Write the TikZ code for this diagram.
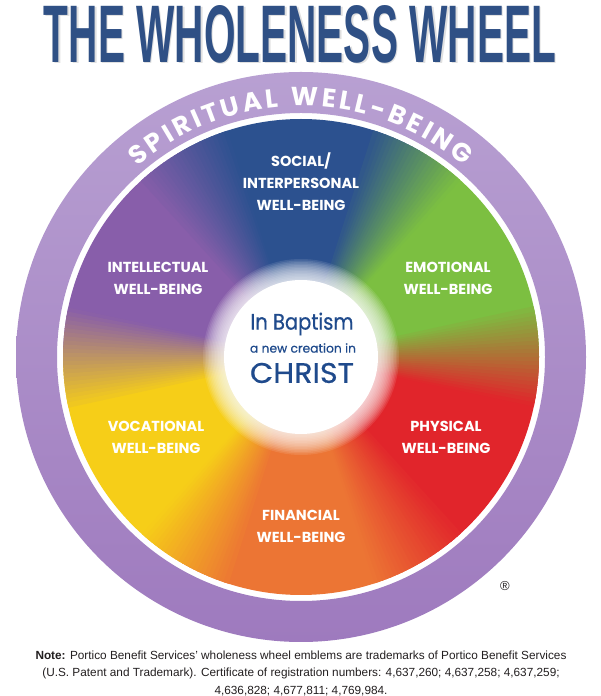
\documentclass[tikz,border=0pt]{standalone}
\usepackage{fontspec}
\setmainfont{Liberation Sans}
\newfontfamily\pop{Poppins}
\newfontfamily\popm[FakeBold=0.6]{Poppins}
\usetikzlibrary{decorations.text}
\definecolor{ringTop}{RGB}{184,160,210}
\definecolor{ringBot}{RGB}{158,122,190}
\definecolor{cBlue}{RGB}{44,81,143}
\definecolor{cGreen}{RGB}{124,191,65}
\definecolor{cRed}{RGB}{225,37,43}
\definecolor{cOrange}{RGB}{236,117,52}
\definecolor{cYellow}{RGB}{246,206,24}
\definecolor{cPurple}{RGB}{136,94,170}
\definecolor{titleBlue}{RGB}{47,80,133}
\definecolor{centerBlue}{RGB}{31,74,140}
\definecolor{noteGray}{RGB}{35,31,32}
\tikzset{
  lab/.style={text=white, font=\pop\bfseries\fontsize{14.5}{22}\selectfont, align=center, inner sep=0pt},
  ctext/.style={text=centerBlue, inner sep=0pt},
}
\begin{document}
\begin{tikzpicture}[x=1pt,y=1pt]
\useasboundingbox (0,0) rectangle (600,696);
\fill[white] (0,0) rectangle (600,696);
\coordinate (C) at (301,339);

% title
\node[inner sep=0pt, text=black!12] (titleshadow) at (301.6,660.6) {\resizebox{512pt}{57pt}{\bfseries THE WHOLENESS WHEEL}};
\node[inner sep=0pt, text=titleBlue] (title) at (300,662) {\resizebox{512pt}{57pt}{\bfseries THE WHOLENESS WHEEL}};

% outer ring
\shade[top color=ringTop, bottom color=ringBot, even odd rule] (C) circle[radius=285] (C) circle[radius=244];

% sectors
\foreach \a/\c in {0/cGreen,60/cBlue,120/cPurple,180/cYellow,240/cOrange,300/cRed}
  \fill[fill=\c] (C) -- ++(\a:238) arc[start angle=\a, end angle=\a+60, radius=238] -- cycle;

% blurred boundaries
\foreach \b/\colA/\colB in {0/cRed/cGreen,60/cGreen/cBlue,120/cBlue/cPurple,180/cPurple/cYellow,240/cYellow/cOrange,300/cOrange/cRed}{
  \foreach \k in {-12,...,11}{
    \pgfmathtruncatemacro\p{round((\k+12.5)/25*100)}
    \pgfmathsetmacro\aa{\b+\k}
    \fill[fill={\colB!\p!\colA}] (C) -- ++(\aa:238) arc[start angle=\aa, end angle=\aa+1.3, radius=238] -- cycle;
  }
}

% fuzzy white centre
\foreach \r in {98,96.5,...,77}
  \fill[white, opacity=0.1] (C) circle[radius=\r];
\fill[white] (C) circle[radius=77];

% ring text
\path[decorate, decoration={text along path, text color=white,
   text={|\pop\bfseries\fontsize{26}{26}\selectfont|SPIRITUAL WELL-BEING},
   text align={fit to path}}]
   (C) ++(130.5:251) arc[start angle=130.5, end angle=49.5, radius=251];

% sector labels
\node[lab] (social) at (301,514) {SOCIAL/\\INTERPERSONAL\\WELL-BEING};
\node[lab] (intel) at (158,418) {INTELLECTUAL\\WELL-BEING};
\node[lab] (emot) at (448,418) {EMOTIONAL\\WELL-BEING};
\node[lab] (voc) at (156,259) {VOCATIONAL\\WELL-BEING};
\node[lab] (phys) at (446,259) {PHYSICAL\\WELL-BEING};
\node[lab] (fin) at (301,169.5) {FINANCIAL\\WELL-BEING};

% centre text
\node[ctext] (bapt) at (302,372) {\resizebox{103pt}{17pt}{\popm In Baptism}};
\node[ctext] (newc) at (303,348) {\resizebox{106pt}{!}{\popm a new creation in}};
\node[ctext] (christ) at (302,323) {\resizebox{104pt}{20pt}{\popm CHRIST}};

% registered mark
\node[inner sep=0pt, text=noteGray, font=\fontsize{13}{13}\selectfont] (reg) at (505,110) {®};

% note
\node[inner sep=0pt, text=noteGray, align=center, font=\fontsize{11.8}{17.5}\selectfont] (note) at (301,23)
 {\textbf{Note:} Portico Benefit Services’ wholeness wheel emblems are trademarks of Portico Benefit Services\\
  (U.S. Patent and Trademark). Certificate of registration numbers: 4,637,260; 4,637,258; 4,637,259;\\
  4,636,828; 4,677,811; 4,769,984.};
\end{tikzpicture}
\end{document}
